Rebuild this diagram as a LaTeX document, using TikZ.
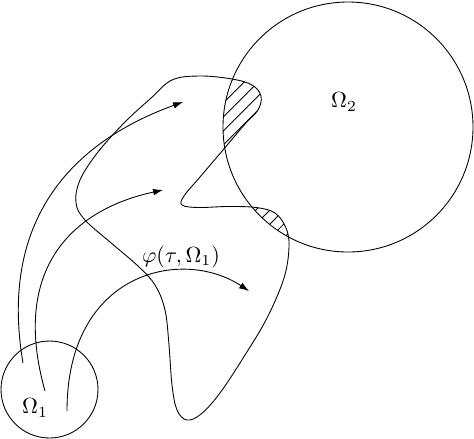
\documentclass[tikz,border=0pt]{standalone}
\usepackage{amsmath}
\usetikzlibrary{patterns.meta,arrows.meta}

\begin{document}
\begin{tikzpicture}[x=0.016cm, y=-0.016cm, flow/.style={-{Latex[length=4.5pt,width=3pt]}}]
    \useasboundingbox (0,0) rectangle (474,438);
    \coordinate (c1) at (49.5,389.5);
    \coordinate (c2) at (348,127);

    % image of Omega_1 at time tau
    \path[save path=\flowset] plot[smooth cycle, tension=0.6] coordinates {
        (172,80) (200,76) (232,79) (252,85) (261,96) (258,110) (245,124)
        (223,150) (200,177) (184,196) (182,205) (198,207.5) (228,206.5) (256,207.5)
        (275,213) (286,228) (289,247) (284,278) (267,318) (245,355) (220,393)
        (201,414) (187,420) (177,410) (172,385) (169,345) (165,310) (155,285)
        (138,266) (110,242) (85,220) (76,203) (80,180) (98,152) (125,122) (150,99)};

    % overlap with Omega_2
    \begin{scope}
        \clip[use path=\flowset];
        \clip (c2) circle (125);
        \fill[pattern={Lines[angle=45,distance=4.5pt]}] (c2) circle (125);
    \end{scope}

    \draw[use path=\flowset];
    \draw (c1) circle (48.5);
    \draw (c2) circle (125);

    \node (om1) at (35,408) {$\Omega_1$};
    \node (om2) at (344,102) {$\Omega_2$};
    \node (phi) at (181,257) {$\varphi(\tau,\Omega_1)$};

    \coordinate (s1) at (23,363);
    \coordinate (e1) at (183,102);
    \coordinate (s2) at (45,391);
    \coordinate (e2) at (163,190);
    \coordinate (s3) at (67,411);
    \coordinate (e3) at (249,291);

    \draw [flow] (s1) .. controls (-2.5,213) and (79.6,139.4) .. (e1);
    \draw [flow] (s2) .. controls (9.9,266.2) and (75.1,208.9) .. (e2);
    \draw [flow] (s3) .. controls (67,271) and (182.6,247) .. (e3);
\end{tikzpicture}
\end{document}
